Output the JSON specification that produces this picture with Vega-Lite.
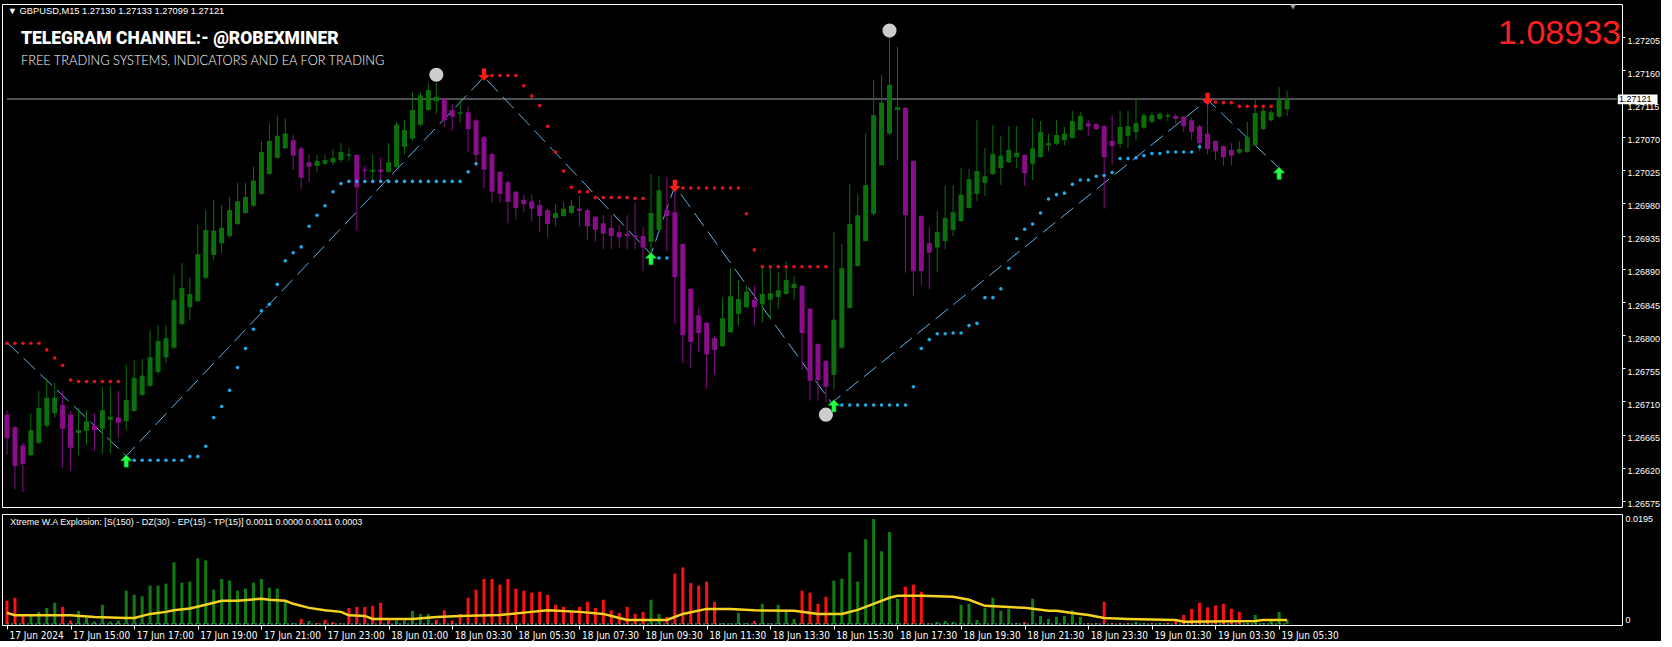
{
"$schema":"https://vega.github.io/schema/vega-lite/v6.json",
"background":"#000000",
"padding":{"left":1,"top":3,"right":0,"bottom":0},
"spacing":3,
"config":{"view":{"stroke":"#ffffff","strokeWidth":1},"axis":{"grid":false,"domain":false,"labelColor":"#ffffff","tickColor":"#ffffff","labelFont":"Liberation Sans","labelFontSize":9,"labelOverlap":false,"labelBound":false}},
"resolve":{"scale":{"x":"independent","y":"independent"}},
"datasets":{
"cd":[
{"i":0,"o":1.26692,"h":1.26698,"l":1.26637,"c":1.2666,"v":0.00412,"d":"dn"},
{"i":1,"o":1.26675,"h":1.26677,"l":1.26591,"c":1.26622,"v":0.00465,"d":"dn"},
{"i":2,"o":1.2665,"h":1.26654,"l":1.26587,"c":1.26625,"v":0.00143,"d":"dn"},
{"i":3,"o":1.26637,"h":1.26694,"l":1.26636,"c":1.26671,"v":0.00161,"d":"up"},
{"i":4,"o":1.26654,"h":1.26724,"l":1.26652,"c":1.26701,"v":0.00215,"d":"up"},
{"i":5,"o":1.26677,"h":1.26742,"l":1.26674,"c":1.26715,"v":0.00286,"d":"up"},
{"i":6,"o":1.26694,"h":1.26735,"l":1.26688,"c":1.26715,"v":0.00376,"d":"up"},
{"i":7,"o":1.26705,"h":1.26724,"l":1.2662,"c":1.26673,"v":0.00304,"d":"dn"},
{"i":8,"o":1.26692,"h":1.26697,"l":1.26616,"c":1.26647,"v":0.00063,"d":"dn"},
{"i":9,"o":1.26667,"h":1.26701,"l":1.26637,"c":1.26671,"v":0.00233,"d":"up"},
{"i":10,"o":1.2667,"h":1.26698,"l":1.26651,"c":1.26683,"v":0.00107,"d":"up"},
{"i":11,"o":1.26677,"h":1.26694,"l":1.26643,"c":1.26671,"v":0.00045,"d":"up"},
{"i":12,"o":1.26673,"h":1.2673,"l":1.26639,"c":1.26698,"v":0.0034,"d":"up"},
{"i":13,"o":1.26685,"h":1.26731,"l":1.26639,"c":1.26689,"v":0.00045,"d":"up"},
{"i":14,"o":1.26688,"h":1.26724,"l":1.2666,"c":1.26681,"v":0.00063,"d":"up"},
{"i":15,"o":1.26683,"h":1.2676,"l":1.26671,"c":1.26712,"v":0.00591,"d":"up"},
{"i":16,"o":1.26697,"h":1.26766,"l":1.26696,"c":1.26742,"v":0.00519,"d":"up"},
{"i":17,"o":1.26719,"h":1.26768,"l":1.26717,"c":1.26745,"v":0.00492,"d":"up"},
{"i":18,"o":1.26731,"h":1.26807,"l":1.2673,"c":1.2677,"v":0.0068,"d":"up"},
{"i":19,"o":1.2675,"h":1.26813,"l":1.26747,"c":1.26792,"v":0.0068,"d":"up"},
{"i":20,"o":1.2677,"h":1.26814,"l":1.26762,"c":1.26796,"v":0.00716,"d":"up"},
{"i":21,"o":1.26783,"h":1.26882,"l":1.26781,"c":1.26848,"v":0.01092,"d":"up"},
{"i":22,"o":1.26815,"h":1.26898,"l":1.26813,"c":1.26864,"v":0.00734,"d":"up"},
{"i":23,"o":1.26838,"h":1.26878,"l":1.26821,"c":1.26856,"v":0.00752,"d":"up"},
{"i":24,"o":1.26846,"h":1.2695,"l":1.26845,"c":1.2691,"v":0.01164,"d":"up"},
{"i":25,"o":1.26878,"h":1.2697,"l":1.26876,"c":1.26943,"v":0.01128,"d":"up"},
{"i":26,"o":1.26909,"h":1.26984,"l":1.26902,"c":1.26942,"v":0.00609,"d":"up"},
{"i":27,"o":1.26925,"h":1.26977,"l":1.26912,"c":1.26946,"v":0.00798,"d":"up"},
{"i":28,"o":1.26935,"h":1.26988,"l":1.26932,"c":1.2697,"v":0.0077,"d":"up"},
{"i":29,"o":1.26951,"h":1.27007,"l":1.2695,"c":1.26982,"v":0.00591,"d":"up"},
{"i":30,"o":1.26966,"h":1.27007,"l":1.26965,"c":1.26988,"v":0.00627,"d":"up"},
{"i":31,"o":1.26976,"h":1.27029,"l":1.26974,"c":1.2701,"v":0.00734,"d":"up"},
{"i":32,"o":1.26992,"h":1.27064,"l":1.26991,"c":1.27049,"v":0.00798,"d":"up"},
{"i":33,"o":1.27019,"h":1.27088,"l":1.27018,"c":1.27064,"v":0.00644,"d":"up"},
{"i":34,"o":1.27041,"h":1.27099,"l":1.2704,"c":1.27071,"v":0.00627,"d":"up"},
{"i":35,"o":1.27054,"h":1.27094,"l":1.27053,"c":1.27074,"v":0.00412,"d":"up"},
{"i":36,"o":1.27065,"h":1.27072,"l":1.27025,"c":1.27044,"v":0.00018,"d":"up"},
{"i":37,"o":1.27054,"h":1.27056,"l":1.26999,"c":1.27014,"v":0.0009,"d":"dn"},
{"i":38,"o":1.27035,"h":1.27046,"l":1.27008,"c":1.27029,"v":0.00054,"d":"up"},
{"i":39,"o":1.2703,"h":1.27045,"l":1.27022,"c":1.27037,"v":0.00018,"d":"dn"},
{"i":40,"o":1.27033,"h":1.27045,"l":1.27031,"c":1.27038,"v":0.00072,"d":"dn"},
{"i":41,"o":1.27035,"h":1.27053,"l":1.27031,"c":1.27041,"v":0.00036,"d":"dn"},
{"i":42,"o":1.27038,"h":1.27061,"l":1.27035,"c":1.27049,"v":0.0001,"d":"dn"},
{"i":43,"o":1.27044,"h":1.27054,"l":1.27037,"c":1.27046,"v":0.00286,"d":"dn"},
{"i":44,"o":1.27045,"h":1.27046,"l":1.26942,"c":1.27001,"v":0.00304,"d":"dn"},
{"i":45,"o":1.27025,"h":1.27031,"l":1.27012,"c":1.27023,"v":0.00304,"d":"dn"},
{"i":46,"o":1.27022,"h":1.27045,"l":1.27008,"c":1.27025,"v":0.00322,"d":"dn"},
{"i":47,"o":1.27025,"h":1.27041,"l":1.27011,"c":1.27022,"v":0.00376,"d":"dn"},
{"i":48,"o":1.27022,"h":1.27061,"l":1.2702,"c":1.27035,"v":0.00072,"d":"dn"},
{"i":49,"o":1.27029,"h":1.2709,"l":1.27027,"c":1.27086,"v":0.00063,"d":"up"},
{"i":50,"o":1.27056,"h":1.27092,"l":1.27046,"c":1.27079,"v":0.00063,"d":"up"},
{"i":51,"o":1.27067,"h":1.27131,"l":1.27065,"c":1.27106,"v":0.00233,"d":"up"},
{"i":52,"o":1.27086,"h":1.27131,"l":1.27084,"c":1.27126,"v":0.00179,"d":"up"},
{"i":53,"o":1.27106,"h":1.27143,"l":1.27105,"c":1.27133,"v":0.00179,"d":"up"},
{"i":54,"o":1.27118,"h":1.27143,"l":1.27101,"c":1.27124,"v":0.00072,"d":"dn"},
{"i":55,"o":1.27121,"h":1.27122,"l":1.27083,"c":1.27092,"v":0.00242,"d":"dn"},
{"i":56,"o":1.27106,"h":1.27114,"l":1.27078,"c":1.27097,"v":0.00063,"d":"dn"},
{"i":57,"o":1.27101,"h":1.27121,"l":1.2709,"c":1.27103,"v":0.00179,"d":"dn"},
{"i":58,"o":1.27103,"h":1.27111,"l":1.27049,"c":1.2708,"v":0.00465,"d":"dn"},
{"i":59,"o":1.27092,"h":1.27094,"l":1.27029,"c":1.27045,"v":0.00609,"d":"dn"},
{"i":60,"o":1.27069,"h":1.27071,"l":1.27,"c":1.27025,"v":0.00798,"d":"dn"},
{"i":61,"o":1.27046,"h":1.27048,"l":1.26981,"c":1.26995,"v":0.00798,"d":"dn"},
{"i":62,"o":1.27022,"h":1.27023,"l":1.26981,"c":1.26992,"v":0.00698,"d":"dn"},
{"i":63,"o":1.27008,"h":1.2701,"l":1.26952,"c":1.26981,"v":0.00798,"d":"dn"},
{"i":64,"o":1.26995,"h":1.26996,"l":1.26957,"c":1.26973,"v":0.00627,"d":"dn"},
{"i":65,"o":1.26984,"h":1.26991,"l":1.26967,"c":1.26978,"v":0.00591,"d":"dn"},
{"i":66,"o":1.26982,"h":1.26991,"l":1.26955,"c":1.26972,"v":0.00555,"d":"dn"},
{"i":67,"o":1.26977,"h":1.26984,"l":1.2694,"c":1.26962,"v":0.00573,"d":"dn"},
{"i":68,"o":1.2697,"h":1.26972,"l":1.26933,"c":1.26951,"v":0.00519,"d":"dn"},
{"i":69,"o":1.26959,"h":1.26978,"l":1.26948,"c":1.26966,"v":0.0034,"d":"dn"},
{"i":70,"o":1.26962,"h":1.26981,"l":1.26961,"c":1.26972,"v":0.00304,"d":"dn"},
{"i":71,"o":1.26966,"h":1.26984,"l":1.26965,"c":1.26976,"v":0.00215,"d":"dn"},
{"i":72,"o":1.26972,"h":1.26989,"l":1.26948,"c":1.26969,"v":0.00304,"d":"dn"},
{"i":73,"o":1.2697,"h":1.26972,"l":1.26929,"c":1.26948,"v":0.00394,"d":"dn"},
{"i":74,"o":1.26961,"h":1.26962,"l":1.26927,"c":1.26943,"v":0.00286,"d":"dn"},
{"i":75,"o":1.26952,"h":1.26963,"l":1.26917,"c":1.26938,"v":0.0043,"d":"dn"},
{"i":76,"o":1.26946,"h":1.26963,"l":1.26917,"c":1.26935,"v":0.00242,"d":"dn"},
{"i":77,"o":1.2694,"h":1.2695,"l":1.26919,"c":1.26933,"v":0.00197,"d":"dn"},
{"i":78,"o":1.26938,"h":1.26963,"l":1.26917,"c":1.26935,"v":0.00304,"d":"dn"},
{"i":79,"o":1.26936,"h":1.2698,"l":1.26917,"c":1.26933,"v":0.00179,"d":"dn"},
{"i":80,"o":1.26935,"h":1.26947,"l":1.26887,"c":1.26919,"v":0.00215,"d":"dn"},
{"i":81,"o":1.26927,"h":1.27019,"l":1.26912,"c":1.26966,"v":0.0043,"d":"up"},
{"i":82,"o":1.26943,"h":1.27016,"l":1.26942,"c":1.26997,"v":0.00179,"d":"up"},
{"i":83,"o":1.2697,"h":1.27015,"l":1.26914,"c":1.26962,"v":0.00125,"d":"dn"},
{"i":84,"o":1.26967,"h":1.27011,"l":1.26815,"c":1.26879,"v":0.00895,"d":"dn"},
{"i":85,"o":1.26924,"h":1.26925,"l":1.26762,"c":1.268,"v":0.01002,"d":"dn"},
{"i":86,"o":1.26863,"h":1.26864,"l":1.26755,"c":1.26791,"v":0.00725,"d":"dn"},
{"i":87,"o":1.26827,"h":1.26838,"l":1.26777,"c":1.26803,"v":0.0068,"d":"dn"},
{"i":88,"o":1.26817,"h":1.26818,"l":1.26727,"c":1.26774,"v":0.00752,"d":"dn"},
{"i":89,"o":1.26796,"h":1.26799,"l":1.26747,"c":1.2678,"v":0.00394,"d":"dn"},
{"i":90,"o":1.26785,"h":1.26851,"l":1.26784,"c":1.26823,"v":0.00018,"d":"up"},
{"i":91,"o":1.26804,"h":1.26891,"l":1.26803,"c":1.26853,"v":0.0001,"d":"up"},
{"i":92,"o":1.26829,"h":1.26875,"l":1.26813,"c":1.26849,"v":0.00197,"d":"up"},
{"i":93,"o":1.26838,"h":1.26868,"l":1.26837,"c":1.26859,"v":0.00018,"d":"up"},
{"i":94,"o":1.26848,"h":1.26867,"l":1.26814,"c":1.26838,"v":0.00054,"d":"dn"},
{"i":95,"o":1.26842,"h":1.26891,"l":1.26817,"c":1.26856,"v":0.00358,"d":"up"},
{"i":96,"o":1.26848,"h":1.26893,"l":1.26821,"c":1.26857,"v":0.0001,"d":"up"},
{"i":97,"o":1.26852,"h":1.26886,"l":1.26836,"c":1.26861,"v":0.0034,"d":"up"},
{"i":98,"o":1.26856,"h":1.269,"l":1.26855,"c":1.26875,"v":0.00233,"d":"up"},
{"i":99,"o":1.26864,"h":1.2688,"l":1.26848,"c":1.2687,"v":0.0009,"d":"up"},
{"i":100,"o":1.26867,"h":1.26868,"l":1.26753,"c":1.26803,"v":0.00591,"d":"dn"},
{"i":101,"o":1.26836,"h":1.26837,"l":1.26711,"c":1.26738,"v":0.00555,"d":"dn"},
{"i":102,"o":1.26788,"h":1.26789,"l":1.26711,"c":1.26739,"v":0.00358,"d":"dn"},
{"i":103,"o":1.26765,"h":1.26766,"l":1.26709,"c":1.2673,"v":0.00483,"d":"dn"},
{"i":104,"o":1.26746,"h":1.2694,"l":1.26726,"c":1.26821,"v":0.0077,"d":"up"},
{"i":105,"o":1.26783,"h":1.26924,"l":1.26781,"c":1.26891,"v":0.00806,"d":"up"},
{"i":106,"o":1.26837,"h":1.27005,"l":1.26836,"c":1.26951,"v":0.01271,"d":"up"},
{"i":107,"o":1.26894,"h":1.26992,"l":1.26893,"c":1.26963,"v":0.00752,"d":"up"},
{"i":108,"o":1.26928,"h":1.27074,"l":1.26927,"c":1.27004,"v":0.01504,"d":"up"},
{"i":109,"o":1.26965,"h":1.27147,"l":1.26963,"c":1.27099,"v":0.01862,"d":"up"},
{"i":110,"o":1.27031,"h":1.27154,"l":1.2703,"c":1.27116,"v":0.01289,"d":"up"},
{"i":111,"o":1.27074,"h":1.27204,"l":1.27072,"c":1.2714,"v":0.01629,"d":"up"},
{"i":112,"o":1.27106,"h":1.27192,"l":1.27038,"c":1.2711,"v":0.00448,"d":"up"},
{"i":113,"o":1.27109,"h":1.2711,"l":1.26885,"c":1.26963,"v":0.00662,"d":"dn"},
{"i":114,"o":1.27037,"h":1.27038,"l":1.26853,"c":1.26887,"v":0.00698,"d":"dn"},
{"i":115,"o":1.26962,"h":1.26963,"l":1.26868,"c":1.26887,"v":0.00573,"d":"dn"},
{"i":116,"o":1.26925,"h":1.26947,"l":1.26863,"c":1.26912,"v":0.0001,"d":"dn"},
{"i":117,"o":1.26919,"h":1.26969,"l":1.26886,"c":1.2694,"v":0.00036,"d":"up"},
{"i":118,"o":1.26928,"h":1.27003,"l":1.26917,"c":1.26959,"v":0.00054,"d":"up"},
{"i":119,"o":1.26943,"h":1.27004,"l":1.26935,"c":1.26967,"v":0.00036,"d":"up"},
{"i":120,"o":1.26955,"h":1.27027,"l":1.26954,"c":1.26991,"v":0.0034,"d":"up"},
{"i":121,"o":1.26973,"h":1.27026,"l":1.26972,"c":1.27012,"v":0.00358,"d":"up"},
{"i":122,"o":1.26992,"h":1.27092,"l":1.26982,"c":1.27023,"v":0.00072,"d":"up"},
{"i":123,"o":1.27007,"h":1.27054,"l":1.26989,"c":1.27016,"v":0.00286,"d":"up"},
{"i":124,"o":1.27019,"h":1.27086,"l":1.27018,"c":1.27046,"v":0.00465,"d":"up"},
{"i":125,"o":1.27027,"h":1.27071,"l":1.27004,"c":1.27044,"v":0.00233,"d":"up"},
{"i":126,"o":1.27035,"h":1.27084,"l":1.27034,"c":1.27052,"v":0.00268,"d":"up"},
{"i":127,"o":1.27042,"h":1.27084,"l":1.27027,"c":1.27048,"v":0.00018,"d":"up"},
{"i":128,"o":1.27045,"h":1.27046,"l":1.27003,"c":1.2702,"v":0.00036,"d":"dn"},
{"i":129,"o":1.27033,"h":1.27095,"l":1.27011,"c":1.27054,"v":0.00448,"d":"up"},
{"i":130,"o":1.27042,"h":1.27091,"l":1.27041,"c":1.27076,"v":0.00143,"d":"up"},
{"i":131,"o":1.27058,"h":1.27074,"l":1.2705,"c":1.27061,"v":0.0009,"d":"up"},
{"i":132,"o":1.2706,"h":1.27092,"l":1.27058,"c":1.27072,"v":0.00125,"d":"up"},
{"i":133,"o":1.27065,"h":1.27083,"l":1.27058,"c":1.27074,"v":0.00143,"d":"up"},
{"i":134,"o":1.27068,"h":1.27105,"l":1.27067,"c":1.27091,"v":0.00242,"d":"up"},
{"i":135,"o":1.27079,"h":1.27103,"l":1.27078,"c":1.27098,"v":0.00125,"d":"up"},
{"i":136,"o":1.27088,"h":1.27092,"l":1.27071,"c":1.27084,"v":0.00018,"d":"dn"},
{"i":137,"o":1.27087,"h":1.27088,"l":1.27079,"c":1.2708,"v":0.00018,"d":"dn"},
{"i":138,"o":1.27084,"h":1.27086,"l":1.26972,"c":1.27042,"v":0.00394,"d":"dn"},
{"i":139,"o":1.27064,"h":1.27099,"l":1.27031,"c":1.27057,"v":0.00018,"d":"dn"},
{"i":140,"o":1.2706,"h":1.27105,"l":1.27054,"c":1.27083,"v":0.00018,"d":"dn"},
{"i":141,"o":1.27071,"h":1.27105,"l":1.27054,"c":1.27084,"v":0.00018,"d":"dn"},
{"i":142,"o":1.27076,"h":1.27122,"l":1.27065,"c":1.27088,"v":0.00036,"d":"up"},
{"i":143,"o":1.27082,"h":1.27102,"l":1.2708,"c":1.27099,"v":0.00018,"d":"up"},
{"i":144,"o":1.2709,"h":1.27103,"l":1.27088,"c":1.27099,"v":0.00018,"d":"dn"},
{"i":145,"o":1.27094,"h":1.27103,"l":1.27092,"c":1.27101,"v":0.00018,"d":"up"},
{"i":146,"o":1.27097,"h":1.27102,"l":1.27091,"c":1.27099,"v":0.00018,"d":"dn"},
{"i":147,"o":1.27098,"h":1.27101,"l":1.27087,"c":1.27094,"v":0.0009,"d":"dn"},
{"i":148,"o":1.27097,"h":1.27098,"l":1.27076,"c":1.27084,"v":0.00161,"d":"dn"},
{"i":149,"o":1.27092,"h":1.27095,"l":1.27065,"c":1.27076,"v":0.00268,"d":"dn"},
{"i":150,"o":1.27084,"h":1.27086,"l":1.2705,"c":1.27061,"v":0.00376,"d":"dn"},
{"i":151,"o":1.27074,"h":1.27118,"l":1.27046,"c":1.27053,"v":0.00295,"d":"dn"},
{"i":152,"o":1.27064,"h":1.27065,"l":1.27038,"c":1.2705,"v":0.00329,"d":"dn"},
{"i":153,"o":1.27057,"h":1.27058,"l":1.2703,"c":1.27042,"v":0.00358,"d":"dn"},
{"i":154,"o":1.27052,"h":1.27061,"l":1.27031,"c":1.27044,"v":0.00268,"d":"dn"},
{"i":155,"o":1.27048,"h":1.27064,"l":1.27046,"c":1.27053,"v":0.00215,"d":"dn"},
{"i":156,"o":1.27049,"h":1.2709,"l":1.27048,"c":1.27069,"v":0.00018,"d":"up"},
{"i":157,"o":1.27058,"h":1.27122,"l":1.27057,"c":1.27102,"v":0.00161,"d":"up"},
{"i":158,"o":1.2708,"h":1.27109,"l":1.27079,"c":1.27105,"v":0.00018,"d":"up"},
{"i":159,"o":1.27092,"h":1.27106,"l":1.27091,"c":1.27103,"v":0.00054,"d":"up"},
{"i":160,"o":1.27097,"h":1.27137,"l":1.27095,"c":1.2712,"v":0.00215,"d":"up"},
{"i":161,"o":1.27107,"h":1.27132,"l":1.27098,"c":1.27121,"v":0.00072,"d":"up"}
],
"yl":[
{"i":0,"s":0.00197},{"i":1,"s":0.00154},{"i":8,"s":0.00154},{"i":11,"s":0.00125},{"i":15,"s":0.00107},{"i":16,"s":0.00107},{"i":18,"s":0.00179},{"i":20,"s":0.00215},{"i":21,"s":0.00242},{"i":23,"s":0.00276},{"i":25,"s":0.0034},{"i":26,"s":0.00376},{"i":27,"s":0.00412},{"i":29,"s":0.00412},{"i":32,"s":0.00448},{"i":33,"s":0.0043},{"i":35,"s":0.00412},{"i":36,"s":0.00358},{"i":38,"s":0.00286},{"i":40,"s":0.00242},{"i":42,"s":0.00215},{"i":43,"s":0.00154},{"i":45,"s":0.00143},{"i":46,"s":0.0009},{"i":51,"s":0.0009},{"i":54,"s":0.00125},{"i":57,"s":0.00143},{"i":62,"s":0.00161},{"i":66,"s":0.00215},{"i":68,"s":0.00242},{"i":72,"s":0.00215},{"i":75,"s":0.00179},{"i":77,"s":0.00107},{"i":78,"s":0.00072},{"i":83,"s":0.00072},{"i":85,"s":0.00179},{"i":88,"s":0.00268},{"i":91,"s":0.00268},{"i":94,"s":0.00242},{"i":99,"s":0.00233},{"i":102,"s":0.00179},{"i":105,"s":0.00179},{"i":107,"s":0.00251},{"i":109,"s":0.00358},{"i":111,"s":0.00465},{"i":112,"s":0.00501},{"i":115,"s":0.00501},{"i":119,"s":0.00483},{"i":121,"s":0.0043},{"i":123,"s":0.00322},{"i":128,"s":0.00286},{"i":131,"s":0.00233},{"i":132,"s":0.00233},{"i":134,"s":0.00197},{"i":136,"s":0.00161},{"i":138,"s":0.00107},{"i":141,"s":0.0009},{"i":147,"s":0.00072},{"i":148,"s":0.00041},{"i":157,"s":0.00054},{"i":158,"s":0.00072},{"i":161,"s":0.00072}
],
"bd":[
{"i":16,"p":1.2663},{"i":17,"p":1.2663},{"i":18,"p":1.2663},{"i":19,"p":1.2663},{"i":20,"p":1.2663},{"i":21,"p":1.2663},{"i":22,"p":1.2663},{"i":23,"p":1.26635},{"i":24,"p":1.26635},{"i":25,"p":1.26649},{"i":26,"p":1.26688},{"i":27,"p":1.26703},{"i":28,"p":1.26725},{"i":29,"p":1.26756},{"i":30,"p":1.26782},{"i":31,"p":1.26808},{"i":32,"p":1.26833},{"i":33,"p":1.26842},{"i":34,"p":1.26869},{"i":35,"p":1.26901},{"i":36,"p":1.26912},{"i":37,"p":1.2692},{"i":38,"p":1.26948},{"i":39,"p":1.26963},{"i":40,"p":1.26976},{"i":41,"p":1.26995},{"i":42,"p":1.27006},
{"i":43,"p":1.27009},{"i":44,"p":1.27009},{"i":45,"p":1.27009},{"i":46,"p":1.27009},{"i":47,"p":1.27009},{"i":48,"p":1.27009},{"i":49,"p":1.27009},{"i":50,"p":1.27009},{"i":51,"p":1.27009},{"i":52,"p":1.27009},{"i":53,"p":1.27009},{"i":54,"p":1.27009},{"i":55,"p":1.27009},{"i":56,"p":1.27009},{"i":57,"p":1.27009},{"i":58,"p":1.27022},{"i":59,"p":1.27033},
{"i":82,"p":1.26905},{"i":83,"p":1.26905},
{"i":105,"p":1.26705},{"i":106,"p":1.26705},{"i":107,"p":1.26705},{"i":108,"p":1.26705},{"i":109,"p":1.26705},{"i":110,"p":1.26705},{"i":111,"p":1.26705},{"i":112,"p":1.26705},{"i":113,"p":1.26705},{"i":114,"p":1.2673},{"i":115,"p":1.26782},{"i":116,"p":1.26794},{"i":117,"p":1.26802},{"i":118,"p":1.26802},{"i":119,"p":1.26803},{"i":120,"p":1.26803},{"i":121,"p":1.26813},{"i":122,"p":1.26816},{"i":123,"p":1.26851},{"i":124,"p":1.26851},{"i":125,"p":1.26863},{"i":126,"p":1.26891},{"i":127,"p":1.26931},{"i":128,"p":1.26944},{"i":129,"p":1.26951},{"i":130,"p":1.26966},{"i":131,"p":1.26985},{"i":132,"p":1.26991},{"i":133,"p":1.26993},{"i":134,"p":1.27005},{"i":135,"p":1.27011},{"i":136,"p":1.27011},{"i":137,"p":1.27016},{"i":138,"p":1.27017},{"i":139,"p":1.27021},{"i":140,"p":1.2704},{"i":141,"p":1.2704},{"i":142,"p":1.27041},{"i":143,"p":1.27044},{"i":144,"p":1.27047},{"i":145,"p":1.27047},{"i":146,"p":1.27049},{"i":147,"p":1.27049},{"i":148,"p":1.27049},{"i":149,"p":1.27049},{"i":150,"p":1.27056}
],
"rd":[
{"i":0,"p":1.26789},{"i":1,"p":1.26789},{"i":2,"p":1.26789},{"i":3,"p":1.26789},{"i":4,"p":1.26789},{"i":5,"p":1.2678},{"i":6,"p":1.26769},{"i":7,"p":1.26759},{"i":8,"p":1.26739},{"i":9,"p":1.26737},{"i":10,"p":1.26737},{"i":11,"p":1.26737},{"i":12,"p":1.26737},{"i":13,"p":1.26737},{"i":14,"p":1.26737},
{"i":61,"p":1.27153},{"i":62,"p":1.27153},{"i":63,"p":1.27153},{"i":64,"p":1.27153},{"i":65,"p":1.27139},{"i":66,"p":1.27125},{"i":67,"p":1.27112},{"i":68,"p":1.27084},{"i":69,"p":1.27049},{"i":70,"p":1.27023},{"i":71,"p":1.27001},{"i":72,"p":1.26995},{"i":73,"p":1.26995},{"i":74,"p":1.26987},{"i":75,"p":1.26987},{"i":76,"p":1.26987},{"i":77,"p":1.26987},{"i":78,"p":1.26987},{"i":79,"p":1.26986},{"i":80,"p":1.26986},
{"i":85,"p":1.27},{"i":86,"p":1.27},{"i":87,"p":1.27},{"i":88,"p":1.27},{"i":89,"p":1.27},{"i":90,"p":1.27},{"i":91,"p":1.27},{"i":92,"p":1.27},{"i":93,"p":1.26965},{"i":94,"p":1.26916},{"i":95,"p":1.26893},{"i":96,"p":1.26893},{"i":97,"p":1.26893},{"i":98,"p":1.26893},{"i":99,"p":1.26893},{"i":100,"p":1.26893},{"i":101,"p":1.26893},{"i":102,"p":1.26893},{"i":103,"p":1.26893},
{"i":152,"p":1.27117},{"i":153,"p":1.27116},{"i":154,"p":1.27116},{"i":155,"p":1.27111},{"i":156,"p":1.27111},{"i":157,"p":1.27111},{"i":158,"p":1.27111},{"i":159,"p":1.27111}
],
"zz":[{"i":0,"p":1.2679},{"i":15,"p":1.26636},{"i":60,"p":1.27151},{"i":81,"p":1.2691},{"i":84,"p":1.27003},{"i":103.7,"p":1.26708},{"i":151,"p":1.2712},{"i":160,"p":1.27027}]
},
"vconcat":[
{
"width":1620,"height":503,
"layer":[
{"data":{"values":[{"i":0,"i2":202.5,"p":1.27121}]},"mark":{"type":"rule","color":"#9aa2ac","strokeWidth":1},
 "encoding":{"x":{"field":"i","type":"quantitative","scale":{"domain":[0,202.5],"nice":false,"zero":false},"axis":null,"title":null},"x2":{"field":"i2"},
 "y":{"field":"p","type":"quantitative","scale":{"domain":[1.265665,1.272501],"nice":false,"zero":false},"title":null,
  "axis":{"orient":"right","values":[1.26575,1.2662,1.26665,1.2671,1.26755,1.268,1.26845,1.2689,1.26935,1.2698,1.27025,1.2707,1.27115,1.2716,1.27205],"tickCount":40,"format":".5f","labelOffset":3,"tickSize":3,"labelPadding":2,"labelOverlap":false,"labelBound":false,"labelFontSize":9}}}},
{"data":{"name":"zz"},"mark":{"type":"line","color":"#5fb0ea","strokeWidth":1,"strokeDash":[16,7],"clip":true},
 "encoding":{"x":{"field":"i","type":"quantitative","scale":{"domain":[0,202.5],"nice":false,"zero":false},"axis":null,"title":null},
 "y":{"field":"p","type":"quantitative","scale":{"domain":[1.265665,1.272501],"nice":false,"zero":false},"title":null}}},
{"data":{"name":"cd"},"mark":{"type":"rule","strokeWidth":1,"clip":true},
 "encoding":{"x":{"field":"i","type":"quantitative","scale":{"domain":[0,202.5],"nice":false,"zero":false},"axis":null,"title":null},
 "y":{"field":"l","type":"quantitative","scale":{"domain":[1.265665,1.272501],"nice":false,"zero":false},"title":null},"y2":{"field":"h"},
 "color":{"condition":{"test":"datum.c >= datum.o","value":"#0c6f0c"},"value":"#8a0d8a"}}},
{"data":{"name":"cd"},"mark":{"type":"bar","width":5,"clip":true},
 "encoding":{"x":{"field":"i","type":"quantitative","scale":{"domain":[0,202.5],"nice":false,"zero":false},"axis":null,"title":null},
 "y":{"field":"o","type":"quantitative","scale":{"domain":[1.265665,1.272501],"nice":false,"zero":false},"title":null},"y2":{"field":"c"},
 "color":{"condition":{"test":"datum.c >= datum.o","value":"#0c6f0c"},"value":"#8a0d8a"}}},
{"data":{"name":"rd"},"mark":{"type":"point","shape":"circle","filled":true,"size":13,"opacity":1,"color":"#e8141c","clip":true},
 "encoding":{"x":{"field":"i","type":"quantitative","scale":{"domain":[0,202.5],"nice":false,"zero":false},"axis":null,"title":null},
 "y":{"field":"p","type":"quantitative","scale":{"domain":[1.265665,1.272501],"nice":false,"zero":false},"title":null}}},
{"data":{"name":"bd"},"mark":{"type":"point","shape":"circle","filled":true,"size":13,"opacity":1,"color":"#22a9e6","clip":true},
 "encoding":{"x":{"field":"i","type":"quantitative","scale":{"domain":[0,202.5],"nice":false,"zero":false},"axis":null,"title":null},
 "y":{"field":"p","type":"quantitative","scale":{"domain":[1.265665,1.272501],"nice":false,"zero":false},"title":null}}},
{"data":{"values":[{"i":54,"p":1.27154},{"i":111,"p":1.27214},{"i":103,"p":1.26692}]},"mark":{"type":"point","shape":"circle","filled":true,"size":200,"opacity":1,"color":"#cdcdcd","clip":true},
 "encoding":{"x":{"field":"i","type":"quantitative","scale":{"domain":[0,202.5],"nice":false,"zero":false},"axis":null,"title":null},
 "y":{"field":"p","type":"quantitative","scale":{"domain":[1.265665,1.272501],"nice":false,"zero":false},"title":null}}},
{"data":{"values":[{"i":15,"p":1.26629},{"i":81,"p":1.26904},{"i":104,"p":1.26704},{"i":160,"p":1.2702}]},"mark":{"type":"point","shape":"M0,-1L0.95,-0.05L0.35,-0.05L0.35,1L-0.35,1L-0.35,-0.05L-0.95,-0.05Z","filled":true,"size":150,"opacity":1,"color":"#22ff44","stroke":"#0a9a20","strokeWidth":0.6,"clip":true},
 "encoding":{"x":{"field":"i","type":"quantitative","scale":{"domain":[0,202.5],"nice":false,"zero":false},"axis":null,"title":null},
 "y":{"field":"p","type":"quantitative","scale":{"domain":[1.265665,1.272501],"nice":false,"zero":false},"title":null}}},
{"data":{"values":[{"i":60,"p":1.27154},{"i":84,"p":1.27003},{"i":151,"p":1.27121}]},"mark":{"type":"point","shape":"M0,1L0.95,0.05L0.35,0.05L0.35,-1L-0.35,-1L-0.35,0.05L-0.95,0.05Z","filled":true,"size":150,"opacity":1,"color":"#ff1a1a","clip":true},
 "encoding":{"x":{"field":"i","type":"quantitative","scale":{"domain":[0,202.5],"nice":false,"zero":false},"axis":null,"title":null},
 "y":{"field":"p","type":"quantitative","scale":{"domain":[1.265665,1.272501],"nice":false,"zero":false},"title":null}}},
{"data":{"values":[{"i":161.75,"p":1.27246}]},"mark":{"type":"point","shape":"triangle-down","filled":true,"size":36,"opacity":1,"color":"#a0a0a0","clip":true},
 "encoding":{"x":{"field":"i","type":"quantitative","scale":{"domain":[0,202.5],"nice":false,"zero":false},"axis":null,"title":null},
 "y":{"field":"p","type":"quantitative","scale":{"domain":[1.265665,1.272501],"nice":false,"zero":false},"title":null}}},
{"data":{"values":[{"i":202.6,"i2":207.6,"p":1.27127,"p2":1.27114}]},"mark":{"type":"rect","color":"#ffffff"},
 "encoding":{"x":{"field":"i","type":"quantitative","scale":{"domain":[0,202.5],"nice":false,"zero":false},"axis":null,"title":null},"x2":{"field":"i2"},
 "y":{"field":"p","type":"quantitative","scale":{"domain":[1.265665,1.272501],"nice":false,"zero":false},"title":null},"y2":{"field":"p2"}}},
{"data":{"values":[{"i":202.75,"p":1.27121,"t":"1.27121"}]},"mark":{"type":"text","align":"left","baseline":"middle","font":"Liberation Sans","fontSize":9,"color":"#000000"},
 "encoding":{"x":{"field":"i","type":"quantitative","scale":{"domain":[0,202.5],"nice":false,"zero":false},"axis":null,"title":null},
 "y":{"field":"p","type":"quantitative","scale":{"domain":[1.265665,1.272501],"nice":false,"zero":false},"title":null},"text":{"field":"t"}}},
{"data":{"values":[{"i":0.1,"p":1.27241,"t":"▼ GBPUSD,M15  1.27130 1.27133 1.27099 1.27121"}]},"mark":{"type":"text","align":"left","baseline":"middle","font":"Liberation Sans","fontSize":9.3,"color":"#ffffff"},
 "encoding":{"x":{"field":"i","type":"quantitative","scale":{"domain":[0,202.5],"nice":false,"zero":false},"axis":null,"title":null},
 "y":{"field":"p","type":"quantitative","scale":{"domain":[1.265665,1.272501],"nice":false,"zero":false},"title":null},"text":{"field":"t"}}},
{"data":{"values":[{"i":1.75,"p":1.27202,"t":"TELEGRAM CHANNEL:- @ROBEXMINER"}]},"mark":{"type":"text","align":"left","baseline":"middle","font":"Roboto","fontWeight":900,"fontSize":17.5,"color":"#ffffff"},
 "encoding":{"x":{"field":"i","type":"quantitative","scale":{"domain":[0,202.5],"nice":false,"zero":false},"axis":null,"title":null},
 "y":{"field":"p","type":"quantitative","scale":{"domain":[1.265665,1.272501],"nice":false,"zero":false},"title":null},"text":{"field":"t"}}},
{"data":{"values":[{"i":1.75,"p":1.27173,"t":"FREE TRADING SYSTEMS, INDICATORS AND EA FOR TRADING"}]},"mark":{"type":"text","align":"left","baseline":"middle","font":"Lato","fontWeight":300,"fontSize":12.8,"color":"#ffffff"},
 "encoding":{"x":{"field":"i","type":"quantitative","scale":{"domain":[0,202.5],"nice":false,"zero":false},"axis":null,"title":null},
 "y":{"field":"p","type":"quantitative","scale":{"domain":[1.265665,1.272501],"nice":false,"zero":false},"title":null},"text":{"field":"t"}}},
{"data":{"values":[{"i":203.0,"p":1.2721,"t":"1.08933"}]},"mark":{"type":"text","align":"right","baseline":"middle","font":"Liberation Sans","fontSize":34,"color":"#ff1f1f"},
 "encoding":{"x":{"field":"i","type":"quantitative","scale":{"domain":[0,202.5],"nice":false,"zero":false},"axis":null,"title":null},
 "y":{"field":"p","type":"quantitative","scale":{"domain":[1.265665,1.272501],"nice":false,"zero":false},"title":null},"text":{"field":"t"}}}
]
},
{
"width":1620,"height":111,
"layer":[
{"data":{"name":"cd"},"mark":{"type":"bar","width":3,"clip":true},
 "encoding":{"x":{"field":"i","type":"quantitative","scale":{"domain":[0,202.5],"nice":false,"zero":false},"title":null,
  "axis":{"orient":"bottom","values":[0,8,16,24,32,40,48,56,64,72,80,88,96,104,112,120,128,136,144,152,160],"tickCount":40,
   "labelExpr":"['17 Jun 2024','17 Jun 15:00','17 Jun 17:00','17 Jun 19:00','17 Jun 21:00','17 Jun 23:00','18 Jun 01:00','18 Jun 03:30','18 Jun 05:30','18 Jun 07:30','18 Jun 09:30','18 Jun 11:30','18 Jun 13:30','18 Jun 15:30','18 Jun 17:30','18 Jun 19:30','18 Jun 21:30','18 Jun 23:30','19 Jun 01:30','19 Jun 03:30','19 Jun 05:30'][round(datum.value/8)]",
   "labelAlign":"left","labelBaseline":"top","labelOffset":2,"labelPadding":1,"tickSize":4,"labelOverlap":false,"labelBound":false,"labelFont":"DejaVu Sans Condensed, Liberation Sans","labelFontSize":10}},
 "y":{"field":"v","type":"quantitative","scale":{"domain":[-0.000177,0.0195],"nice":false,"zero":false},"title":null,
  "axis":{"orient":"right","values":[0,0.0195],"tickCount":10,"labelExpr":"datum.value == 0 ? '0' : '0.0195'","labelFlush":2,"tickSize":0,"labelPadding":3,"labelFontSize":9}},
 "y2":{"datum":0},
 "color":{"condition":{"test":"datum.d == 'up'","value":"#127c12"},"value":"#ff1010"}}},
{"data":{"values":[{"a":0,"b":161,"z":0}]},"mark":{"type":"rule","color":"#3cc4b0","strokeWidth":1,"strokeDash":[2,2],"clip":true},
 "encoding":{"x":{"field":"a","type":"quantitative","scale":{"domain":[0,202.5],"nice":false,"zero":false},"title":null},"x2":{"field":"b"},
 "y":{"field":"z","type":"quantitative","scale":{"domain":[-0.000177,0.0195],"nice":false,"zero":false},"title":null}}},
{"data":{"name":"yl"},"mark":{"type":"line","color":"#f5d320","strokeWidth":2.5,"clip":true},
 "encoding":{"x":{"field":"i","type":"quantitative","scale":{"domain":[0,202.5],"nice":false,"zero":false},"title":null},
 "y":{"field":"s","type":"quantitative","scale":{"domain":[-0.000177,0.0195],"nice":false,"zero":false},"title":null}}},
{"data":{"values":[{"i":0.4,"s":0.018,"t":"Xtreme W.A Explosion: [S(150) - DZ(30) - EP(15) - TP(15)] 0.0011 0.0000 0.0011 0.0003"}]},"mark":{"type":"text","align":"left","baseline":"middle","font":"Liberation Sans","fontSize":9,"color":"#ffffff"},
 "encoding":{"x":{"field":"i","type":"quantitative","scale":{"domain":[0,202.5],"nice":false,"zero":false},"title":null},
 "y":{"field":"s","type":"quantitative","scale":{"domain":[-0.000177,0.0195],"nice":false,"zero":false},"title":null},"text":{"field":"t"}}}
]
}
]
}
